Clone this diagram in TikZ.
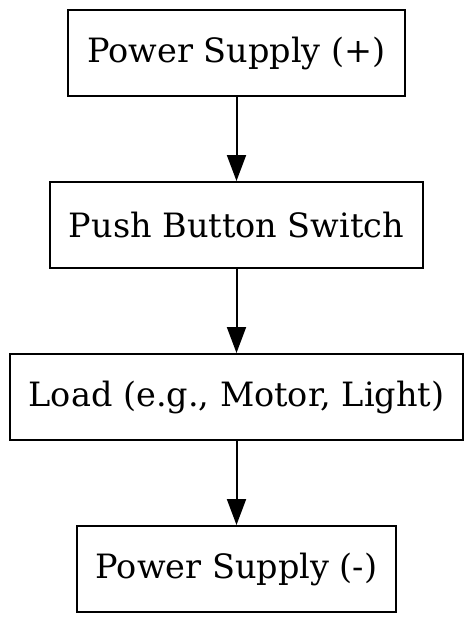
\documentclass[tikz,border=0pt]{standalone}
\usepackage{fontspec}
\setmainfont{DejaVu Serif}
\usetikzlibrary{positioning,arrows.meta}

\tikzstyle{block} = [rectangle, draw, line width=2pt, minimum height=86pt, inner xsep=19pt, text centered, font=\fontsize{33.5}{40}\selectfont]
\tikzstyle{wire} = [line width=2pt, -{Triangle[length=26pt,width=19pt]}]

\begin{document}
\begin{tikzpicture}[x=1pt, y=1pt, node distance=84pt]
  \useasboundingbox (0,0) rectangle (474,-622);
  \node[block] (plus) at (236.5,-53) {Power Supply (+)};
  \node[block, below=of plus] (switch) {Push Button Switch};
  \node[block, below=of switch] (load) {Load (e.g., Motor, Light)};
  \node[block, below=of load] (minus) {Power Supply (-)};
  \draw[wire] (plus) -- (switch);
  \draw[wire] (switch) -- (load);
  \draw[wire] (load) -- (minus);
\end{tikzpicture}
\end{document}
